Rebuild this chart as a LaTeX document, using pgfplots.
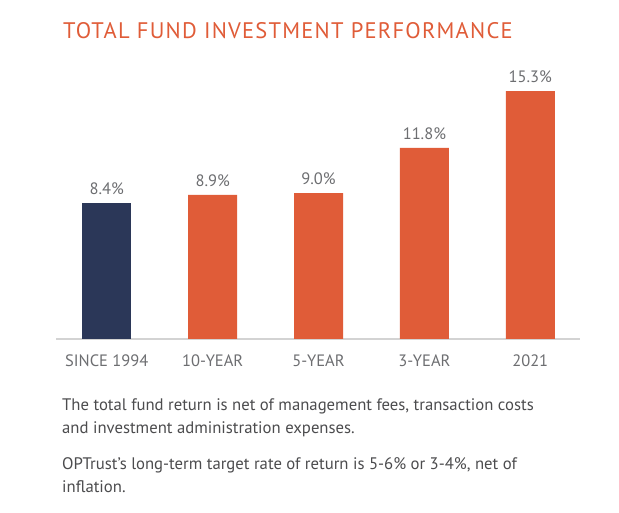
\documentclass[border=0pt]{standalone}
\usepackage{pgfplots}
\pgfplotsset{compat=1.18}
\usepackage{fontspec}
\setmainfont{PT Sans}
\definecolor{optorange}{HTML}{E05C38}
\definecolor{optnavy}{HTML}{2B3758}
\definecolor{labgray}{HTML}{6D6E71}
\definecolor{txtgray}{HTML}{4C4C4E}
\definecolor{basegray}{HTML}{D3D3D3}

\begin{document}
\begin{tikzpicture}
  \path[use as bounding box, fill=white] (0,0) rectangle (619pt,512pt);
  \begin{axis}[
    at={(56pt,173pt)}, anchor=south west,
    scale only axis,
    width=524pt, height=259.2pt,
    ybar, bar width=49pt, bar shift=0pt,
    xmin=-0.48, xmax=4.47,
    ymin=0, ymax=16,
    axis y line=none,
    axis x line*=bottom,
    x axis line style={basegray, line width=1.2pt, -},
    xtick={0,1,2,3,4},
    xticklabels={SINCE 1994,10-YEAR,5-YEAR,3-YEAR,2021},
    major tick length=0pt,
    x tick label style={font=\fontsize{16.5}{18}\selectfont, text=labgray, yshift=-12pt},
    nodes near coords={\pgfmathprintnumber[fixed, fixed zerofill, precision=1]{\pgfplotspointmeta}\%},
    nodes near coords style={font=\fontsize{16.5}{18}\selectfont, text=labgray, inner sep=0pt, anchor=south, yshift=8pt},
    /pgf/number format/assume math mode=true,
    clip=false,
  ]
    \addplot[draw=none, fill=optnavy] coordinates {(0,8.4)};
    \addplot[draw=none, fill=optorange] coordinates {(1,8.9) (2,9.0) (3,11.8) (4,15.3)};
  \end{axis}
  \node[anchor=base west, inner sep=0pt, text=optorange, font=\fontsize{22.5}{26}\selectfont\addfontfeature{LetterSpace=5.5}] at (63pt,473pt) {TOTAL FUND INVESTMENT PERFORMANCE};
  \begin{scope}[every node/.style={anchor=base west, inner sep=0pt, text=txtgray, font=\fontsize{16.7}{20}\selectfont}]
    \node at (62pt,102pt) {The total fund return is net of management fees, transaction costs};
    \node at (62pt,78pt) {and investment administration expenses.};
    \node at (62pt,42pt) {OPTrust’s long-term target rate of return is 5-6\% or 3-4\%, net of};
    \node at (62pt,20pt) {inflation.};
  \end{scope}
\end{tikzpicture}
\end{document}
